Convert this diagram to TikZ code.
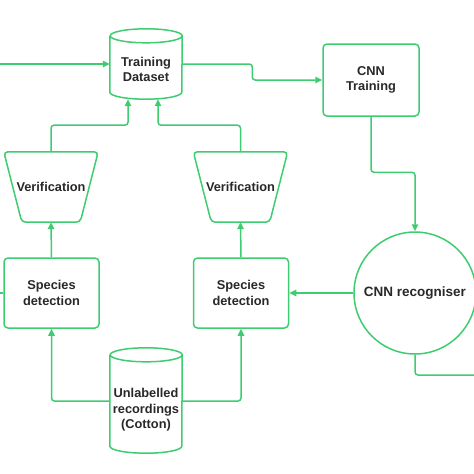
\documentclass[tikz,border=0pt]{standalone}
\usepackage{fontspec}
\setmainfont{Liberation Sans}
\usetikzlibrary{arrows.meta}
\definecolor{gr}{RGB}{62,204,112}
\definecolor{tx}{RGB}{40,40,40}
\begin{document}
\begin{tikzpicture}[x=1pt,y=-1pt,
 line/.style={draw=gr, line width=1.5pt},
 arr/.style={line, -{Triangle[length=7pt,width=6.5pt]}, rounded corners=3pt},
 lbl/.style={text=tx, font=\bfseries\fontsize{12.8}{15.5}\selectfont, align=center, inner sep=0pt},
 box/.style={lbl, draw=gr, line width=1.5pt, rounded corners=4pt, minimum width=95pt, minimum height=70pt},
 ]
\useasboundingbox (0,0) rectangle (474,474);

% nodes
\node[box, minimum width=96pt, minimum height=72pt] (cnn) at (371,80) {CNN\\Training};
\node[box] (sd1) at (51.5,293) {Species\\detection};
\node[box] (sd2) at (241,293) {Species\\detection};
\node[lbl, circle, draw=gr, line width=1.5pt, minimum size=122pt,
      font=\bfseries\fontsize{13.5}{16}\selectfont] (rec) at (415,293) {CNN recogniser};
\node[lbl, minimum width=72pt, minimum height=59pt] (td) at (146,69.5) {Training\\Dataset};
\node[lbl, minimum width=72pt, minimum height=86pt] (ur) at (146,410) {Unlabelled\\recordings\\(Cotton)};
\node[lbl, minimum width=94pt, minimum height=70pt] (v1) at (51,187) {Verification};
\node[lbl, minimum width=94pt, minimum height=70pt] (v2) at (240.5,187) {Verification};

% cylinders
\draw[line] ([yshift=4pt]td.north west) -- ([yshift=7pt]td.south west)
  arc[start angle=180, end angle=360, x radius=36pt, y radius=7pt]
  -- ([yshift=4pt]td.north east)
  arc[start angle=0, end angle=360, x radius=36pt, y radius=7pt];
\draw[line] ([yshift=12pt]ur.north west) -- ([yshift=7pt]ur.south west)
  arc[start angle=180, end angle=360, x radius=36pt, y radius=7pt]
  -- ([yshift=12pt]ur.north east)
  arc[start angle=0, end angle=360, x radius=36pt, y radius=7pt];

% trapezoids
\draw[line, rounded corners=4pt] (v1.north west) -- (v1.north east)
  -- ([xshift=-18pt]v1.south east) -- ([xshift=18pt]v1.south west) -- cycle;
\draw[line, rounded corners=4pt] (v2.north west) -- (v2.north east)
  -- ([xshift=-18pt]v2.south east) -- ([xshift=18pt]v2.south west) -- cycle;

% connectors
\coordinate (lin) at (0,64);
\coordinate (lout) at (0,293);
\coordinate (rout) at (474,375);
\draw[arr] (lin) -- (lin -| td.west);
\draw[arr] (lin -| td.east) -| ([xshift=-70pt]cnn.west) -- (cnn.west);
\draw[arr] (cnn.south) |- ([yshift=59pt]rec.north) -- (rec.north);
\draw[arr] (rec.west) -- (sd2.east);
\draw[line, rounded corners=3pt] (rec.south) |- (rout);
\draw[line] (lout) -- (sd1.west);
\draw[arr] (sd1.north) -- (v1.south);
\draw[arr] (sd2.north) -- (v2.south);
\draw[arr] (v1.north) |- ([xshift=-18pt,yshift=-26pt]td.south) -- ([xshift=-18pt]td.south);
\draw[arr] (v2.north) |- ([xshift=12pt,yshift=-26pt]td.south) -- ([xshift=12pt]td.south);
\draw[arr] ([yshift=9pt]ur.west) -| (sd1.south);
\draw[arr] ([yshift=9pt]ur.east) -| (sd2.south);
\end{tikzpicture}
\end{document}
